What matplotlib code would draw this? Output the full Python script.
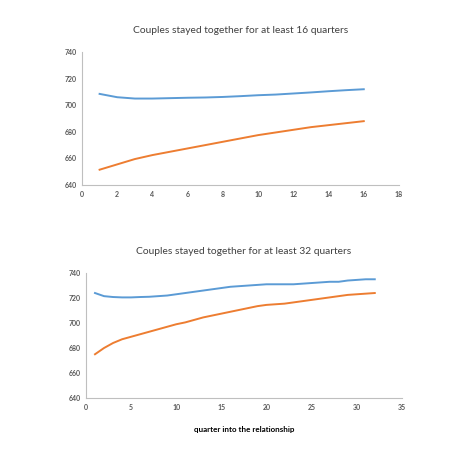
import matplotlib.pyplot as plt

plt.rcParams['font.family'] = ['Lato', 'DejaVu Sans']

# top chart: couples together >= 16 quarters
q16 = list(range(1, 17))
blue16 = [708.5, 706.0, 705.0, 705.0, 705.3, 705.6, 705.8, 706.2,
          706.8, 707.5, 708.0, 708.8, 709.6, 710.5, 711.3, 712.0]
orange16 = [651.5, 655.5, 659.5, 662.5, 665.0, 667.5, 670.0, 672.5,
            675.0, 677.5, 679.5, 681.5, 683.5, 685.0, 686.5, 688.0]

# bottom chart: couples together >= 32 quarters
q32 = list(range(1, 33))
blue32 = [724.0, 721.5, 720.8, 720.5, 720.5, 720.8, 721.0, 721.5,
          722.0, 723.0, 724.0, 725.0, 726.0, 727.0, 728.0, 729.0,
          729.5, 730.0, 730.5, 731.0, 731.0, 731.0, 731.0, 731.5,
          732.0, 732.5, 733.0, 733.0, 734.0, 734.5, 735.0, 735.0]
orange32 = [675.0, 680.0, 684.0, 687.0, 689.0, 691.0, 693.0, 695.0,
            697.0, 699.0, 700.5, 702.5, 704.5, 706.0, 707.5, 709.0,
            710.5, 712.0, 713.5, 714.5, 715.0, 715.5, 716.5, 717.5,
            718.5, 719.5, 720.5, 721.5, 722.5, 723.0, 723.5, 724.0]

BLUE = '#5B9BD5'
ORANGE = '#ED7D31'
GRID = '#BFBFBF'
TXT = '#404040'


def style_axes(ax, xmax, xstep):
    for s in ['top', 'right']:
        ax.spines[s].set_visible(False)
    for s in ['left', 'bottom']:
        ax.spines[s].set_color(GRID)
        ax.spines[s].set_linewidth(0.8)
    ax.set_xlim(0, xmax)
    ax.set_ylim(640, 740)
    ax.set_xticks(range(0, xmax + 1, xstep))
    ax.set_yticks(range(640, 741, 20))
    ax.tick_params(length=0, labelsize=5, colors='#595959', pad=4)
    for lab in ax.get_xticklabels() + ax.get_yticklabels():
        lab.set_fontweight('bold')


fig = plt.figure(figsize=(4.75, 4.68), dpi=100)

ax1 = fig.add_axes([0.1726, 0.6047, 0.6674, 0.2842])
ax1.plot(q16, blue16, color=BLUE, linewidth=1.4)
ax1.plot(q16, orange16, color=ORANGE, linewidth=1.4)
style_axes(ax1, 18, 2)
ax1.set_title('Couples stayed together for at least 16 quarters',
              fontsize=7.4, color=TXT, pad=14)

ax2 = fig.add_axes([0.181, 0.1496, 0.665, 0.267])
ax2.plot(q32, blue32, color=BLUE, linewidth=1.4)
ax2.plot(q32, orange32, color=ORANGE, linewidth=1.4)
style_axes(ax2, 35, 5)
ax2.set_title('Couples stayed together for at least 32 quarters',
              fontsize=7.4, color=TXT, pad=14)
ax2.set_xlabel('quarter into the relationship', fontsize=5.8,
               fontweight='bold', color='black', labelpad=11)

fig.savefig('out.png', dpi=100)
